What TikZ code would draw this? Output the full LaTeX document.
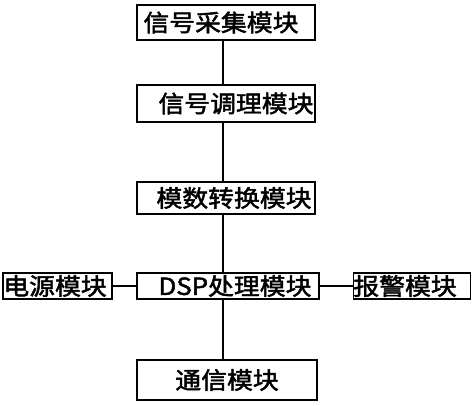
\documentclass[tikz,border=0pt]{standalone}
\usepackage{fontspec}
\newfontfamily\cjk[FakeBold=2,FakeStretch=1.1]{Noto Sans CJK SC}
\begin{document}
\begin{tikzpicture}[x=1pt,y=-1pt,
  box/.style={draw,line width=1.4pt,rectangle,inner sep=0pt,font=\cjk\fontsize{23.5}{25}\selectfont},
  conn/.style={line width=1.4pt}]
\useasboundingbox (0,0) rectangle (474,406);
\coordinate (spine) at (223,0);
\node[box,minimum width=178,minimum height=35] (cj) at (226,22.5) {信号采集模块\hspace*{10pt}};
\node[box,minimum width=178,minimum height=37] (tl) at (226,103.5) {\hspace*{20pt}信号调理模块};
\node[box,minimum width=178,minimum height=32] (zh) at (226,198) {\hspace*{16pt}模数转换模块};
\node[box,minimum width=182,minimum height=26] (dsp) at (228,286) {\hspace*{14pt}DSP处理模块};
\node[box,minimum width=180,minimum height=40] (tx) at (227,380) {通信模块};
\node[box,minimum width=109,minimum height=26] (dy) at (57.5,286) {电源模块\hspace*{5pt}};
\node[box,minimum width=116,minimum height=26] (bj) at (412,286) {报警模块\hspace*{14pt}};
\draw[conn] (cj.south -| spine) -- (tl.north -| spine);
\draw[conn] (tl.south -| spine) -- (zh.north -| spine);
\draw[conn] (zh.south -| spine) -- (dsp.north -| spine);
\draw[conn] (dsp.south -| spine) -- (tx.north -| spine);
\draw[conn] (dy.east) -- (dsp.west);
\draw[conn] (dsp.east) -- (bj.west);
\end{tikzpicture}
\end{document}
